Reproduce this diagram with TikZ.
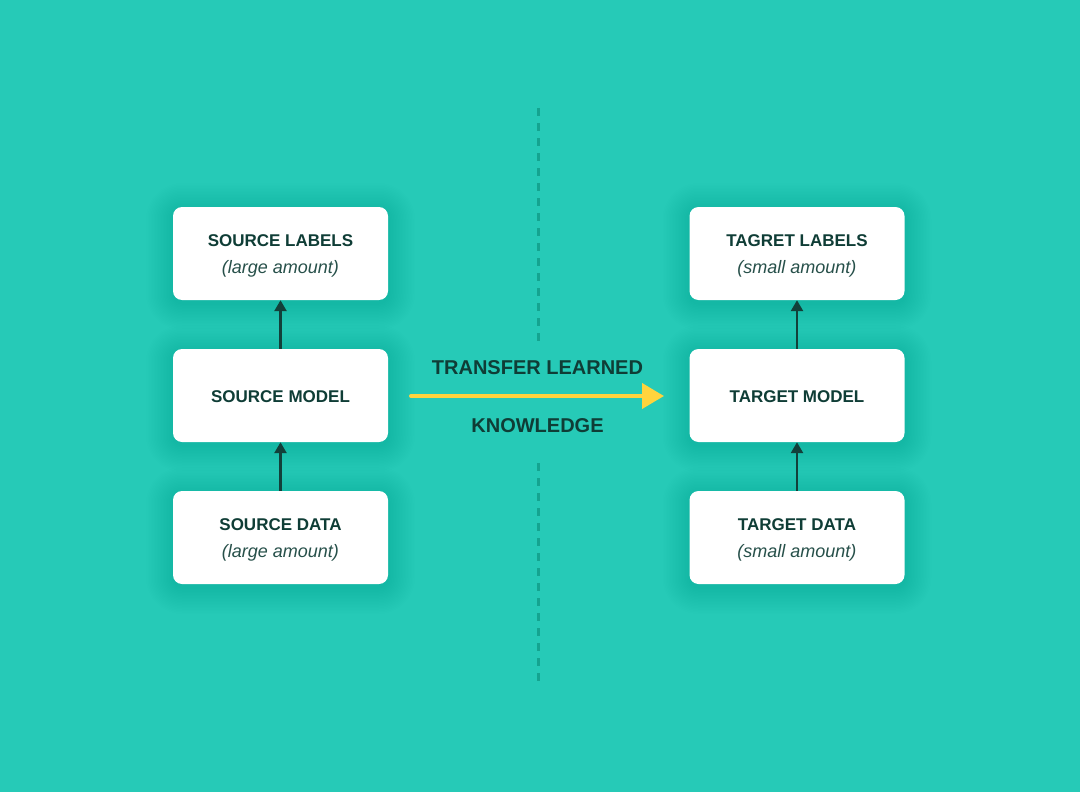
\documentclass[tikz,border=0pt]{standalone}
\usepackage{fontspec}
\setmainfont{Liberation Sans}
\usetikzlibrary{arrows.meta}
\definecolor{bg}{HTML}{26CAB7}
\definecolor{ink}{HTML}{0F3D36}
\definecolor{arr}{HTML}{12403A}
\definecolor{yel}{HTML}{FFD43D}
\definecolor{dash}{HTML}{14A490}
\tikzset{
  box/.style={draw=none, fill=white, rounded corners=9pt, minimum width=215pt, minimum height=93pt, inner sep=0pt},
  shade layer/.style={fill=black, fill opacity=0.0035, draw=none},
  ttl/.style={anchor=base, text=ink, font=\fontsize{17}{20}\selectfont\bfseries, inner sep=0pt},
  sub/.style={anchor=base, text=ink!90, font=\fontsize{18}{20}\selectfont\itshape, inner sep=0pt},
  mid/.style={anchor=base, text=ink, font=\fontsize{20}{24}\selectfont\bfseries, inner sep=0pt},
  uparrow/.style={draw=arr, line width=2.5pt, -{Triangle[length=11pt,width=12pt]}},
  divider/.style={draw=dash, line width=3pt, dash pattern=on 8pt off 7pt},
}
\begin{document}
\begin{tikzpicture}[x=1pt,y=-1pt]
\fill[bg] (0,0) rectangle (1080,792);
\useasboundingbox (0,0) rectangle (1080,792);
% divider
\coordinate (d1) at (538,108);
\coordinate (d2) at (538,342);
\coordinate (d3) at (538,463);
\coordinate (d4) at (538,685);
\draw[divider] (d1) -- (d2);
\draw[divider] (d3) -- (d4);
% soft shadows
\foreach \cx/\cy in {280.5/253.5, 280.5/395.5, 280.5/537.5, 797/253.5, 797/395.5, 797/537.5}{
  \foreach \r in {1.5,3,...,27}{
    \fill[shade layer, rounded corners={9pt+\r pt}] (\cx-107.5-\r, \cy-46.5-\r+3) rectangle (\cx+107.5+\r, \cy+46.5+\r+3);
  }
}
% boxes
\node[box] (sl) at (280.5,253.5) {};
\node[box] (sm) at (280.5,395.5) {};
\node[box] (sd) at (280.5,537.5) {};
\node[box] (tl) at (797,253.5) {};
\node[box] (tm) at (797,395.5) {};
\node[box] (td) at (797,537.5) {};
% texts
\node[ttl] (slt) at (280.5,246) {SOURCE LABELS};
\node[sub] (sls) at (280.5,273) {(large amount)};
\node[ttl] (smt) at (280.5,402) {SOURCE MODEL};
\node[ttl] (sdt) at (280.5,530) {SOURCE DATA};
\node[sub] (sds) at (280.5,557) {(large amount)};
\node[ttl] (tlt) at (797,246) {TAGRET LABELS};
\node[sub] (tls) at (797,273) {(small amount)};
\node[ttl] (tmt) at (797,402) {TARGET MODEL};
\node[ttl] (tdt) at (797,530) {TARGET DATA};
\node[sub] (tds) at (797,557) {(small amount)};
% arrows
\draw[uparrow] (sd.north) -- (sm.south);
\draw[uparrow] (sm.north) -- (sl.south);
\draw[uparrow] (td.north) -- (tm.south);
\draw[uparrow] (tm.north) -- (tl.south);
% transfer
\coordinate (ya) at (411,396);
\coordinate (yb) at (664,396);
\draw[draw=yel, line width=4pt, line cap=round, -{Triangle[length=22pt,width=25pt]}] (ya) -- (yb);
\node[mid] (m1) at (537.5,374) {TRANSFER LEARNED};
\node[mid] (m2) at (537.5,432) {KNOWLEDGE};
\end{tikzpicture}
\end{document}
